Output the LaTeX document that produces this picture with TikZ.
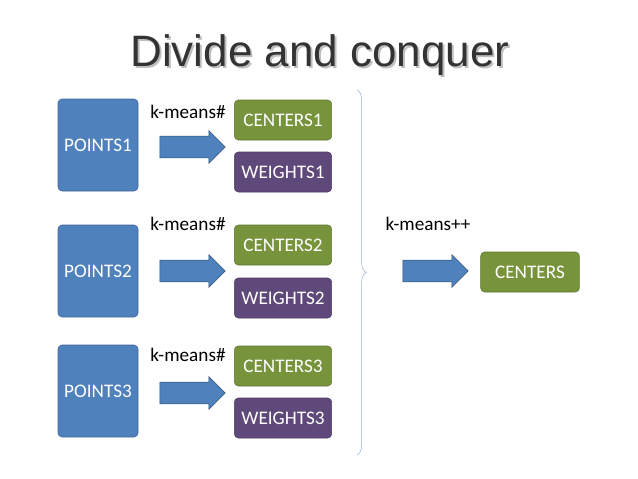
\documentclass[tikz,border=0pt]{standalone}
\usepackage{fontspec}
\setmainfont{Carlito}
\newfontfamily\titlefont{Liberation Sans}
\usetikzlibrary{decorations.pathreplacing}
\usetikzlibrary{positioning}
\usetikzlibrary{shapes.arrows}

\definecolor{ptblue}{HTML}{4F81BD}
\definecolor{cgreen}{HTML}{77933C}
\definecolor{wpurple}{HTML}{5F497A}
\definecolor{bracecol}{HTML}{95B3D7}

\tikzset{
    pts/.style={fill=ptblue, draw=ptblue!80!black, rounded corners=3pt,
        minimum width=60pt, minimum height=69pt, text=white, font=\Large},
    ctr/.style={fill=cgreen, draw=cgreen!80!black, rounded corners=3pt,
        minimum width=73pt, minimum height=30pt, text=white, font=\Large},
    wgt/.style={ctr, fill=wpurple, draw=wpurple!80!black},
    blk/.style={single arrow, fill=ptblue, draw=ptblue!60!black,
        inner xsep=0pt, inner ysep=8pt, single arrow head extend=4pt,
        single arrow head indent=0pt, minimum height=49pt},
    lbl/.style={font=\Large},
    ttl/.style={font=\titlefont\fontsize{33}{33}\selectfont}
}

\begin{document}
\begin{tikzpicture}[x=0.75pt,y=-0.75pt]
    \useasboundingbox (0,0) rectangle (638,478);

    \node[ttl, text=black!25] (shadow) at (322,57) {Divide and conquer};
    \node[ttl, text=black!80] (title) at (320,55) {Divide and conquer};

    % three blocks
    \node[pts] (p1) at (98,145) {POINTS1};
    \node[pts] (p2) at (98,271) {POINTS2};
    \node[pts] (p3) at (98,391) {POINTS3};

    \node[blk] (a1) at (187,147) {};
    \node[blk] (a2) at (187,271) {};
    \node[blk] (a3) at (187,393) {};

    \node[lbl] (k1) at (188,112) {k-means\#};
    \node[lbl] (k2) at (188,224) {k-means\#};
    \node[lbl] (k3) at (188,355) {k-means\#};

    \node[ctr] (c1) at (283,120) {CENTERS1};
    \node[wgt] (w1) at (283,172) {WEIGHTS1};
    \node[ctr] (c2) at (283,245) {CENTERS2};
    \node[wgt] (w2) at (283,298) {WEIGHTS2};
    \node[ctr] (c3) at (283,366) {CENTERS3};
    \node[wgt] (w3) at (283,418) {WEIGHTS3};

    % merge
    \coordinate (btop) at (357,90);
    \coordinate (bbot) at (357,455);
    \draw[bracecol, decorate, decoration={brace, amplitude=7pt, aspect=0.5}] (btop) -- (bbot);

    \node[lbl] (kpp) at (428,224) {k-means++};
    \node[blk] (a4) at (430,271) {};
    \node[ctr, minimum width=74pt] (cc) at (530,272) {CENTERS};
\end{tikzpicture}
\end{document}
